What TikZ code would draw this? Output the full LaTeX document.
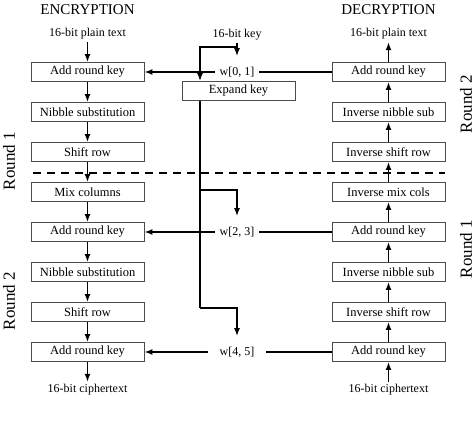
\documentclass[tikz,border=0pt]{standalone}
\usepackage{fontspec}
\setmainfont{Liberation Serif}
\usetikzlibrary{arrows.meta, positioning}

\begin{document}
\begin{tikzpicture}[x=1pt, y=1pt, node distance=40pt, on grid,
    box/.style={draw=black!70, line width=0.9pt, minimum width=113pt, minimum height=19pt, inner sep=0pt, font=\fontsize{12.5}{14}\selectfont},
    lbl/.style={inner sep=2pt, font=\fontsize{12}{14}\selectfont},
    wlab/.style={lbl, inner xsep=4pt, inner ysep=10pt},
    title/.style={font=\fontsize{15}{17}\selectfont},
    rnd/.style={rotate=90, font=\fontsize{17}{19}\selectfont},
    divider/.style={dash pattern=on 8pt off 6pt, line width=1.5pt},
    >={Latex[length=8pt,width=6pt]}, line width=1.5pt]

   \useasboundingbox (0,0) rectangle (474,-423);

   % encryption
   \node[box] (e1) at (87.5,-72) {Add round key};
   \node[box] (e2) [below=of e1] {Nibble substitution};
   \node[box] (e3) [below=of e2] {Shift row};
   \node[box] (e4) [below=of e3] {Mix columns};
   \node[box] (e5) [below=of e4] {Add round key};
   \node[box] (e6) [below=of e5] {Nibble substitution};
   \node[box] (e7) [below=of e6] {Shift row};
   \node[box] (e8) [below=of e7] {Add round key};
   \node[lbl] (eptxt) [above=38pt of e1] {16-bit plain text};
   \node[lbl] (ectxt) [below=38pt of e8] {16-bit ciphertext};
   \node[title] (enc) [above=24pt of eptxt] {ENCRYPTION};

   % decryption
   \node[box] (d1) [right=301pt of e1] {Add round key};
   \node[box] (d2) [below=of d1] {Inverse nibble sub};
   \node[box] (d3) [below=of d2] {Inverse shift row};
   \node[box] (d4) [below=of d3] {Inverse mix cols};
   \node[box] (d5) [below=of d4] {Add round key};
   \node[box] (d6) [below=of d5] {Inverse nibble sub};
   \node[box] (d7) [below=of d6] {Inverse shift row};
   \node[box] (d8) [below=of d7] {Add round key};
   \node[lbl] (dptxt) [above=38pt of d1] {16-bit plain text};
   \node[lbl] (dctxt) [below=38pt of d8] {16-bit ciphertext};
   \node[title] (dec) [above=24pt of dptxt] {DECRYPTION};

   % key schedule
   \node[box] (xkey) at (238.5,-91) {Expand key};
   \node[lbl] (key) at (237,-35) {16-bit key};
   \node[wlab] (w01) at (237,-72) {w[0, 1]};
   \node[wlab] (w23) at (237,-232) {w[2, 3]};
   \node[wlab, inner xsep=11pt] (w45) at (237,-352) {w[4, 5]};
   \coordinate (ksplit) at (237,-47);
   \coordinate (ktap) at (200,-190);
   \coordinate (kbend) at (200,-308);

   % rounds
   \node[rnd] (r1l) at (9,-161) {Round 1};
   \node[rnd] (r2l) at (9,-301) {Round 2};
   \node[rnd] (r2r) at (466,-104) {Round 2};
   \node[rnd] (r1r) at (466,-249) {Round 1};

   \draw[divider] (33,-173) -- (445,-173);

    \path[->]
    (eptxt) edge (e1)
    (e1) edge (e2)
    (e2) edge (e3)
    (e3) edge (e4)
    (e4) edge (e5)
    (e5) edge (e6)
    (e6) edge (e7)
    (e7) edge (e8)
    (e8) edge (ectxt);

    \path[->]
    (dctxt) edge (d8)
    (d8) edge (d7)
    (d7) edge (d6)
    (d6) edge (d5)
    (d5) edge (d4)
    (d4) edge (d3)
    (d3) edge (d2)
    (d2) edge (d1)
    (d1) edge (dptxt);

    \draw (key) -- (ksplit);
    \draw[->] (ksplit) -- (w01);
    \draw[->] (ksplit) -| ([xshift=-38.5pt]xkey.north);
    \draw ([xshift=-38.5pt]xkey.south) -- (kbend);
    \draw[->] (ktap) -| (w23);
    \draw[->] (kbend) -| (w45);

    \path[->]
    (w01) edge (e1)
    (w23) edge (e5)
    (w45) edge (e8);
    \path
    (w01) edge (d1)
    (w23) edge (d5)
    (w45) edge (d8);

\end{tikzpicture}
\end{document}
